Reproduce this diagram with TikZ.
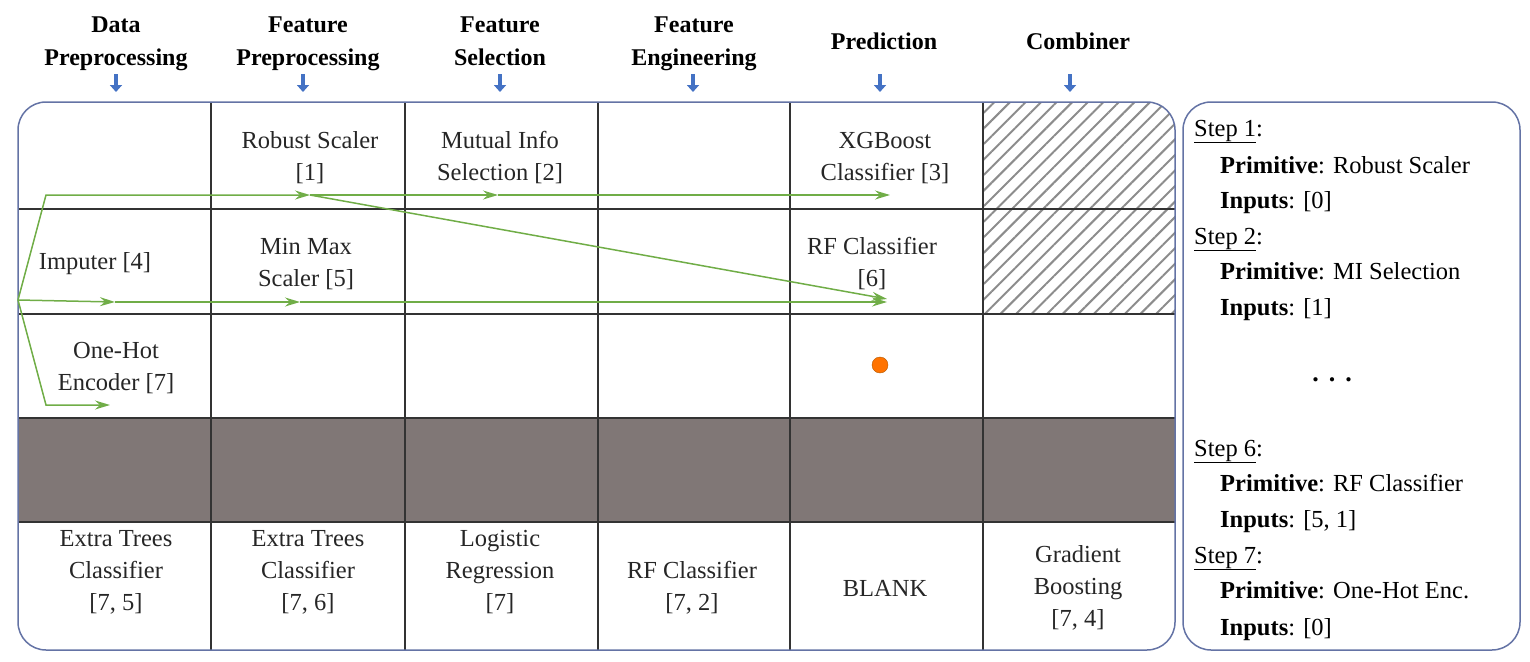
\documentclass[tikz,border=0pt]{standalone}
\usepackage{fontspec}
\setmainfont{Liberation Serif}
\usetikzlibrary{arrows.meta,patterns.meta}
\definecolor{gr}{RGB}{112,173,71}
\definecolor{bl}{RGB}{68,114,196}
\definecolor{fr}{RGB}{100,115,165}
\definecolor{gy}{RGB}{128,119,118}
\begin{document}
\begin{tikzpicture}[x=1pt,y=-1pt,
  txt/.style={font=\fontsize{24.5}{32}\selectfont,align=center,text=black!85},
  hdr/.style={font=\fontsize{24}{32}\selectfont\bfseries,align=center},
  rt/.style={font=\fontsize{24.5}{32}\selectfont,anchor=base west,inner sep=0pt},
  grid/.style={draw=black!80,line width=1.5pt},
  frame/.style={draw=fr,line width=1.5pt,rounded corners=28pt},
  ga/.style={draw=gr,line width=1.5pt},
  gtip/.style={ga,-{Stealth[length=15pt,width=9pt,inset=5pt]}},
  barr/.style={draw=bl,line width=4.5pt,-{Triangle[length=7pt,width=12pt]}}]
\useasboundingbox (0,0) rectangle (1530,661);
\fill[gy] (18,418) rectangle (1175,522);
\begin{scope}
\clip[rounded corners=28pt] (18,102) rectangle (1175,650);
\fill[pattern={Lines[angle=45,distance=11pt,line width=2pt]},pattern color=black!45] (983,102) rectangle (1175,314);
\end{scope}
\foreach \x in {211,405,598,790,983} \draw[grid] (\x,102) -- (\x,650);
\foreach \y in {209,314,418,522} \draw[grid] (18,\y) -- (1175,\y);
\draw[frame] (18,102) rectangle (1175,650);
\draw[frame] (1183,102) rectangle (1520,650);
% headers (baselines)
\node[hdr,anchor=base] (h1a) at (116,33) {Data};
\node[hdr,anchor=base] (h1b) at (116,65) {Preprocessing};
\node[hdr,anchor=base] (h2a) at (308,33) {Feature};
\node[hdr,anchor=base] (h2b) at (308,65) {Preprocessing};
\node[hdr,anchor=base] (h3a) at (500,33) {Feature};
\node[hdr,anchor=base] (h3b) at (500,65) {Selection};
\node[hdr,anchor=base] (h4a) at (694,33) {Feature};
\node[hdr,anchor=base] (h4b) at (694,65) {Engineering};
\node[hdr,anchor=base] (h5) at (884,49) {Prediction};
\node[hdr,anchor=base] (h6) at (1078,49) {Combiner};
\foreach \x in {116,303,500,693,880,1070} \draw[barr] (\x,74) -- (\x,92);
\node[txt] (c12) at (310,158) {Robust Scaler\\{[1]}};
\node[txt] (c13) at (500,158) {Mutual Info\\Selection [2]};
\node[txt] (c15) at (885,158) {XGBoost\\Classifier [3]};
\node[txt] (c21) at (95,264) {Imputer [4]};
\node[txt] (c22) at (306,264) {Min Max\\Scaler [5]};
\node[txt] (c25) at (872,264) {RF Classifier\\{[6]}};
\node[txt] (c31) at (116,368) {One-Hot\\Encoder [7]};
\fill[orange!90!red, draw=orange!70!black] (880,365) circle (8);
\node[txt] (c51) at (116,572) {Extra Trees\\Classifier\\{[7, 5]}};
\node[txt] (c52) at (308,572) {Extra Trees\\Classifier\\{[7, 6]}};
\node[txt] (c53) at (500,572) {Logistic\\Regression\\{[7]}};
\node[txt] (c54) at (692,588) {RF Classifier\\{[7, 2]}};
\node[txt] (c55) at (885,588) {BLANK};
\node[txt] (c56) at (1078,588) {Gradient\\Boosting\\{[7, 4]}};
\coordinate (s) at (18,300);
\coordinate (t1) at (46,195);
\coordinate (m1) at (310,195);
\coordinate (m2) at (498,195);
\coordinate (e1) at (890,195);
\coordinate (n1) at (115,302);
\coordinate (n2) at (300,302);
\coordinate (e2) at (887,302);
\coordinate (e3) at (887,299);
\coordinate (b1) at (46,405);
\coordinate (e4) at (110,405);
\draw[gtip] (s) -- (t1) -- (m1);
\draw[gtip] (m1) -- (m2);
\draw[gtip] (m2) -- (e1);
\draw[gtip] (m1) -- (e3);
\draw[gtip] (s) -- (n1);
\draw[gtip] (n1) -- (n2);
\draw[gtip] (n2) -- (e2);
\draw[gtip] (s) -- (b1) -- (e4);
\node[rt] (r1) at (1194,136) {\underline{Step 1}:};
\node[rt] (r2) at (1220,173) {\textbf{Primitive}: Robust Scaler};
\node[rt] (r3) at (1220,208) {\textbf{Inputs}: [0]};
\node[rt] (r4) at (1194,244) {\underline{Step 2}:};
\node[rt] (r5) at (1220,279) {\textbf{Primitive}: MI Selection};
\node[rt] (r6) at (1220,315) {\textbf{Inputs}: [1]};
\node[font=\fontsize{26}{32}\selectfont\bfseries] (dots) at (1332,380) {.\hspace{10pt}.\hspace{10pt}.};
\node[rt] (r7) at (1194,456) {\underline{Step 6}:};
\node[rt] (r8) at (1220,491) {\textbf{Primitive}: RF Classifier};
\node[rt] (r9) at (1220,527) {\textbf{Inputs}: [5, 1]};
\node[rt] (r10) at (1194,563) {\underline{Step 7}:};
\node[rt] (r11) at (1220,598) {\textbf{Primitive}: One-Hot Enc.};
\node[rt] (r12) at (1220,635) {\textbf{Inputs}: [0]};
\end{tikzpicture}
\end{document}
